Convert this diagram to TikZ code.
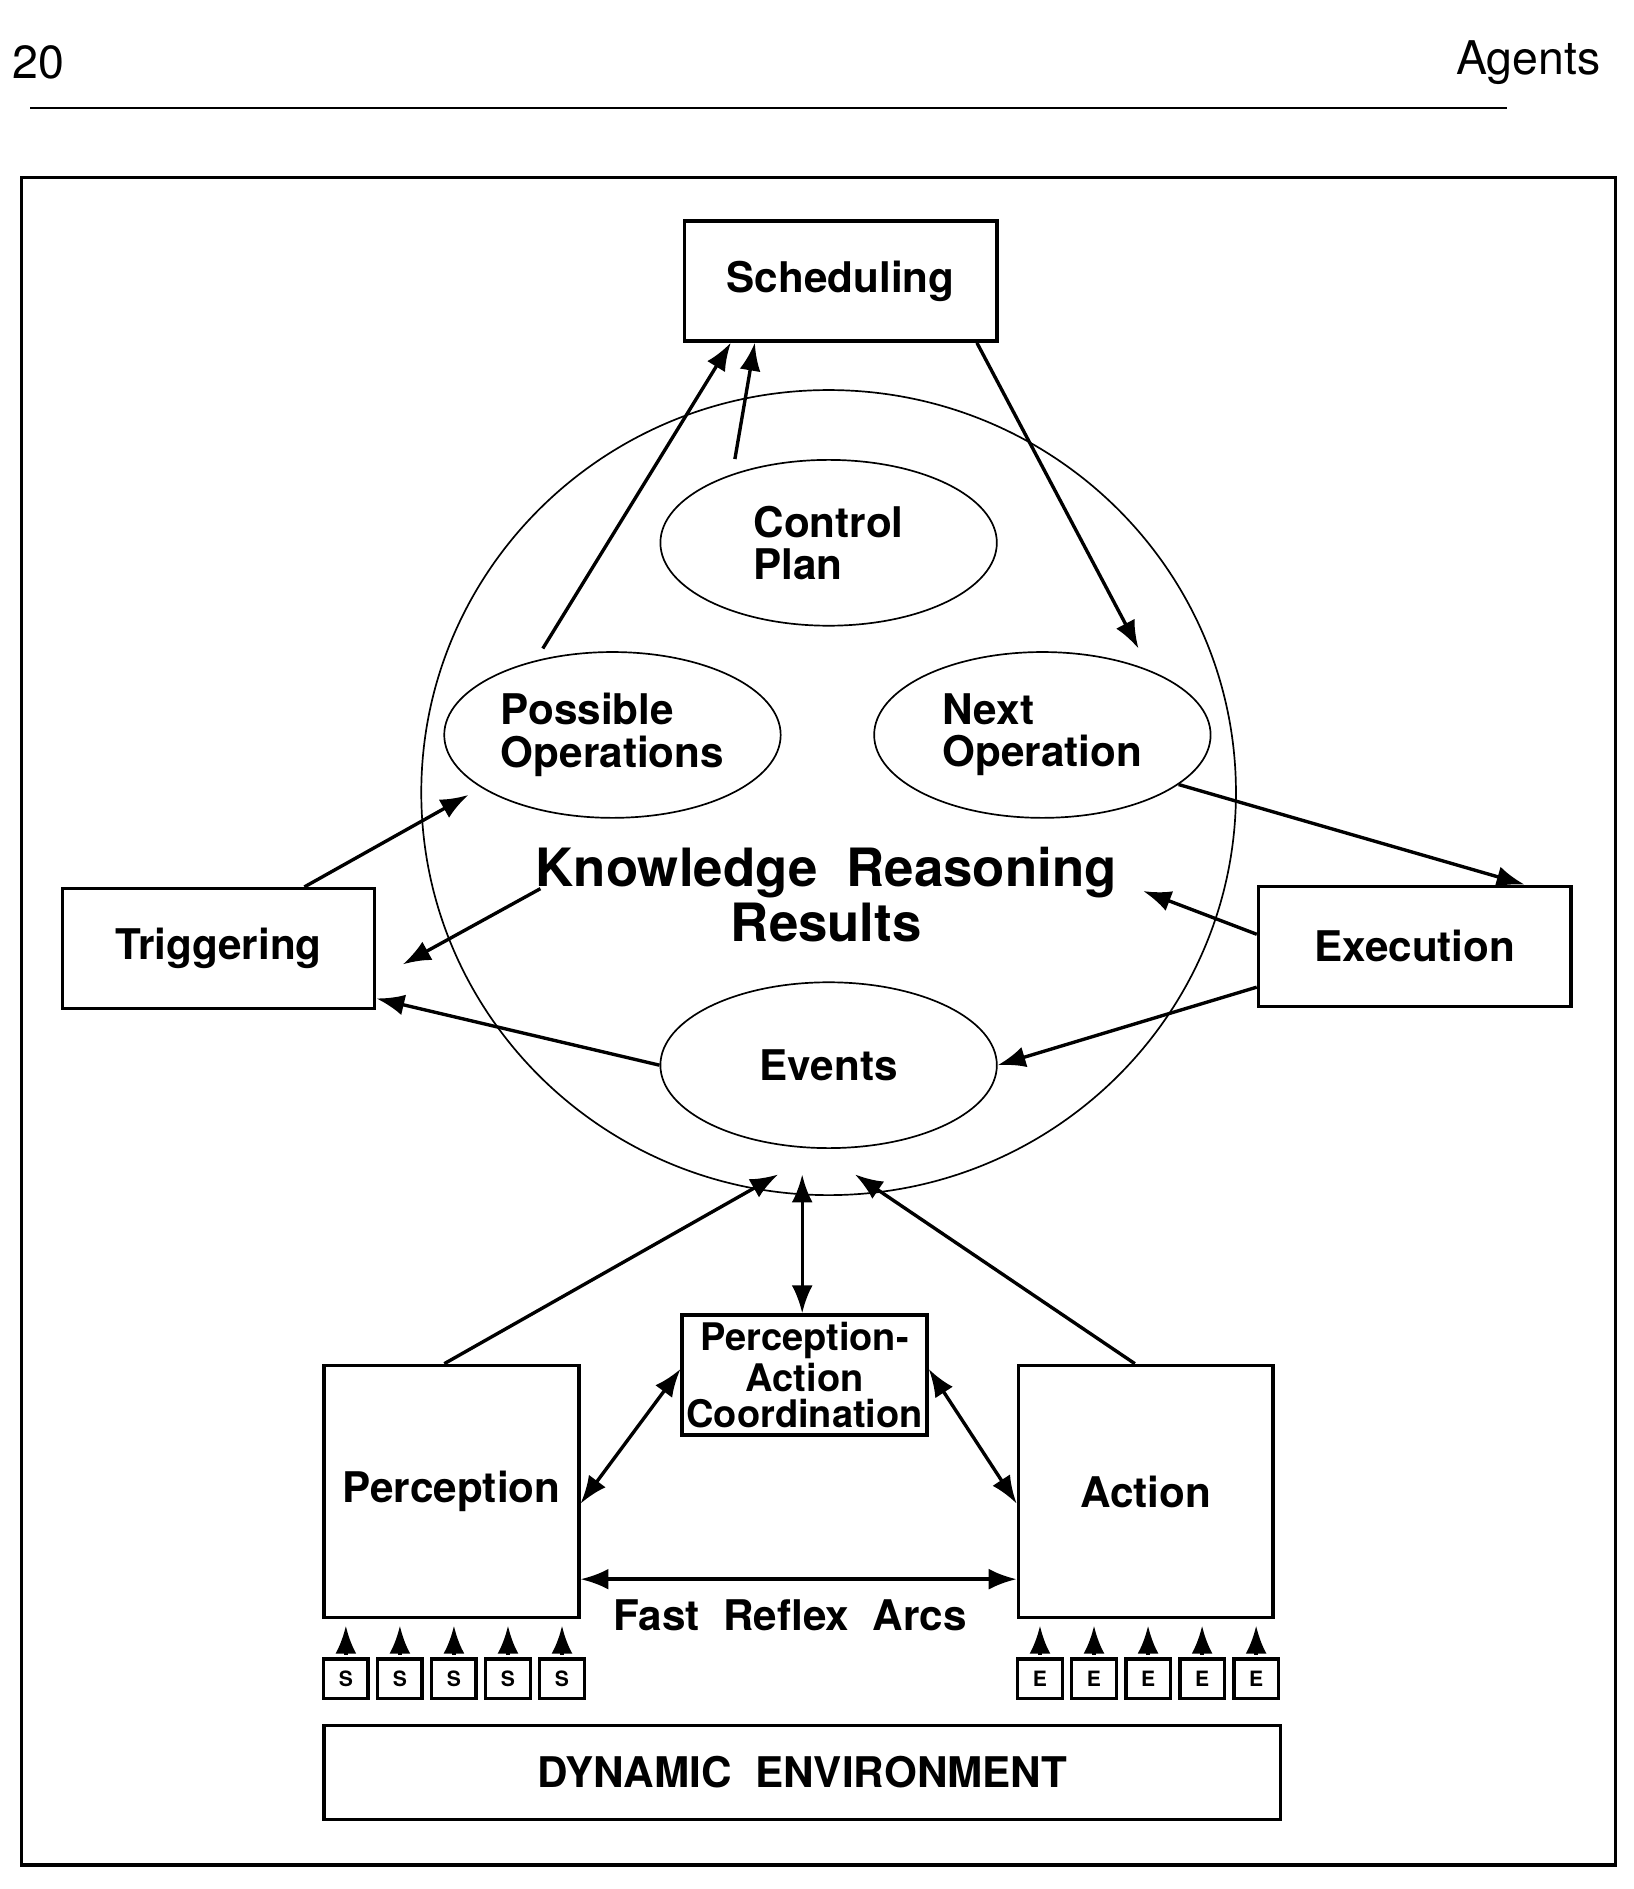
\documentclass[tikz,border=0pt]{standalone}
\usepackage{fontspec}
\setmainfont{TeX Gyre Heros}
\usetikzlibrary{arrows.meta,shapes.geometric}

\begin{document}
\begin{tikzpicture}[x=0.01cm, y=-0.01cm,
  box/.style = {draw, thick, minimum width=2.6cm, minimum height=1cm, font=\fontsize{10}{11}\bfseries\selectfont},
  oval/.style = {draw, ellipse, inner sep=0pt, minimum width=2.8cm, minimum height=1.38cm, align=left, font=\fontsize{10}{10}\bfseries\selectfont},
  sbox/.style = {draw, thick, minimum width=0.37cm, minimum height=0.33cm, inner sep=0pt, font=\fontsize{5}{5}\bfseries\selectfont},
  arr/.style = {-Latex, thick},
  dbl/.style = {Latex-Latex, thick}]
  \useasboundingbox (0,0) rectangle (1360,1573);

  % header
  \node[font=\fontsize{11}{11}\selectfont] (page) at (32,52) {20};
  \node[font=\fontsize{11}{11}\selectfont, anchor=east] (title) at (1345,52) {Agents};
  \draw (25,90) -- (1255,90);
  \draw[thick] (18,148) rectangle (1345,1553);

  % reasoning circle
  \node[draw, ellipse, minimum width=6.78cm, minimum height=6.7cm] (kr) at (690,660) {};
  \node[font=\fontsize{12.5}{11}\bfseries\selectfont, align=center] (krtext) at (688,745) {Knowledge\ \ Reasoning\\Results};
  \node[oval] (ctrl) at (690,452) {Control\\Plan};
  \node[oval] (poss) at (510,612) {Possible\\Operations};
  \node[oval] (next) at (868,612) {Next\\Operation};
  \node[oval] (ev) at (690,887) {Events};

  \node[box] (sched) at (700,234) {Scheduling};
  \node[box] (trig) at (182,790) {Triggering};
  \node[box] (exec) at (1178,788) {Execution};

  \node[draw, thick, minimum width=2cm, minimum height=1cm, inner sep=1pt, align=center,
        font=\fontsize{9}{8.5}\bfseries\selectfont] (pac) at (670,1145) {Perception-\\Action\\Coordination};
  \node[draw, thick, minimum width=2.12cm, minimum height=2.1cm, font=\fontsize{10}{11}\bfseries\selectfont] (perc) at (376,1242) {Perception};
  \node[draw, thick, minimum width=2.12cm, minimum height=2.1cm, font=\fontsize{10}{11}\bfseries\selectfont] (act) at (954,1242) {Action};
  \node[draw, thick, minimum width=7.96cm, minimum height=0.78cm, font=\fontsize{10}{11}\bfseries\selectfont] (env) at (668,1476) {DYNAMIC\ \ ENVIRONMENT};
  \node[font=\fontsize{10}{11}\bfseries\selectfont] (fra) at (658,1345) {Fast\ \ Reflex\ \ Arcs};

  % sensors and effectors
  \foreach \i in {0,...,4} {
    \node[sbox] (s\i) at (288+45*\i,1398) {S};
    \draw[arr] (s\i.north) ++(0,-2) -- ([yshift=-1.5]perc.south -| s\i.north);
    \node[sbox] (e\i) at (866+45*\i,1398) {E};
    \draw[arr] (e\i.north) ++(0,-2) -- ([yshift=-1.5]act.south -| e\i.north);
  }

  \coordinate (kr1) at (648,978);
  \coordinate (kr2) at (668,978);
  \coordinate (kr3) at (712,978);
  \coordinate (possT) at (452,540);
  \coordinate (nextT) at (948,540);
  \coordinate (possB) at (390,662);

  \draw[arr] (possT) -- ([xshift=0.4cm]sched.south west);
  \draw[arr] ([xshift=-0.78cm]ctrl.north) -- ([xshift=0.6cm]sched.south west);
  \draw[arr] ([xshift=-0.18cm]sched.south east) -- (nextT);
  \draw[arr] (next.-20) -- ([xshift=-0.4cm]exec.north east);
  \draw[arr] ([xshift=-0.6cm]trig.north east) -- (possB);
  \draw[arr] (450,740) -- ([xshift=0.22cm,yshift=-0.13cm]trig.east);
  \draw[arr] (ev.west) -- ([yshift=0.1cm]trig.south east);
  \draw[arr] ([yshift=0.1cm]exec.west) -- (952,742);
  \draw[arr] ([yshift=-0.34cm]exec.west) -- (ev.east);
  \draw[arr] ([xshift=-0.06cm]perc.north) -- (kr1);
  \draw[arr] ([xshift=-0.09cm]act.north) -- (kr3);
  \draw[dbl] (kr2) -- (pac.north -| kr2);
  \draw[dbl] ([yshift=-0.1cm]perc.east) -- ([yshift=0.05cm]pac.west);
  \draw[dbl] ([yshift=0.05cm]pac.east) -- ([yshift=-0.1cm]act.west);
  \draw[dbl] (perc.east |- 0,1315) -- (act.west |- 0,1315);
\end{tikzpicture}
\end{document}
